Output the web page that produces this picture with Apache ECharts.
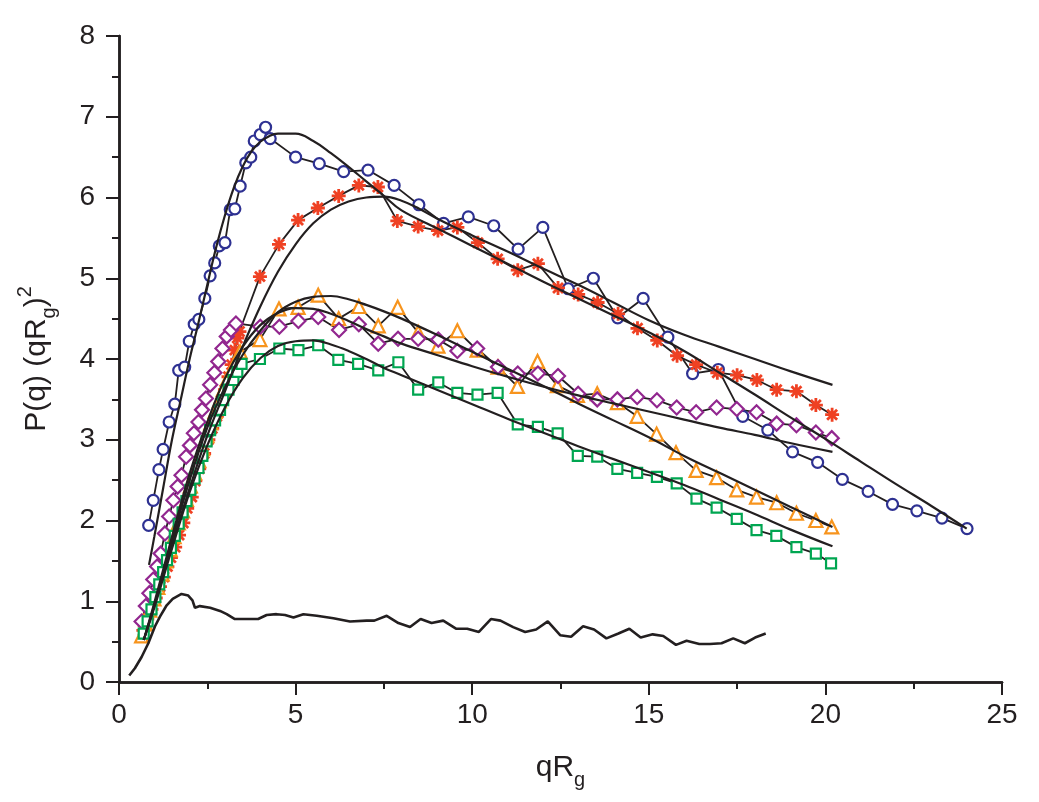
<!DOCTYPE html>
<html>
<head>
<meta charset="utf-8">
<title>P(q) (qRg)^2 vs qRg</title>
<script src="https://cdn.jsdelivr.net/npm/echarts@6/dist/echarts.min.js"></script>
<style>
  html, body { margin: 0; padding: 0; background: #fff; }
  #chart { width: 1039px; height: 802px; }
</style>
</head>
<body>
<div id="chart"></div>
<script>
// axis ticks
const xTicks = [0, 5, 10, 15, 20, 25];
const yTicks = [0, 1, 2, 3, 4, 5, 6, 7, 8];

// blue circles
const blueX = [0.84, 0.97, 1.13, 1.25, 1.42, 1.58, 1.69, 1.86, 1.99, 2.13, 2.26, 2.43, 2.58, 2.71, 2.84, 3.00,
  3.15, 3.28, 3.43, 3.59, 3.73, 3.83, 4.00, 4.15, 4.28, 5.00, 5.67, 6.36, 7.05, 7.79, 8.49, 9.19, 9.89,
  10.61, 11.30, 12.00, 12.72, 13.43, 14.12, 14.84, 15.54, 16.24, 16.97, 17.66, 18.37, 19.07, 19.78,
  20.48, 21.21, 21.90, 22.59, 23.30, 24.01];
const blueY = [1.94, 2.25, 2.63, 2.88, 3.22, 3.44, 3.86, 3.90, 4.22, 4.43, 4.49, 4.75, 5.03, 5.19, 5.40, 5.44,
  5.85, 5.86, 6.14, 6.43, 6.50, 6.70, 6.78, 6.87, 6.73, 6.50, 6.42, 6.32, 6.34, 6.15, 5.91, 5.68, 5.76,
  5.65, 5.36, 5.63, 4.87, 5.00, 4.51, 4.75, 4.27, 3.82, 3.87, 3.29, 3.12, 2.85, 2.72,
  2.51, 2.36, 2.20, 2.12, 2.03, 1.90];

// red asterisks
const redX = [0.69, 0.80, 0.92, 1.04, 1.16, 1.27, 1.37, 1.47, 1.59, 1.70, 1.82, 1.93, 2.06, 2.16, 2.27, 2.41,
  2.53, 2.64, 2.77, 2.88, 3.00, 3.10, 3.19, 3.28, 3.35, 3.41, 3.99, 4.53, 5.07, 5.63, 6.22, 6.79, 7.33,
  7.88, 8.47, 9.03, 9.58, 10.16, 10.72, 11.29, 11.86, 12.43, 13.00, 13.55, 14.13, 14.68, 15.24, 15.80,
  16.34, 16.94, 17.50, 18.06, 18.62, 19.18, 19.73, 20.19];
const redY = [0.64, 0.78, 0.90, 1.04, 1.18, 1.30, 1.43, 1.54, 1.67, 1.82, 1.97, 2.15, 2.29, 2.49, 2.64, 2.83,
  3.00, 3.14, 3.29, 3.45, 3.62, 3.78, 3.93, 4.11, 4.26, 4.34, 5.02, 5.42, 5.72, 5.87, 6.02, 6.15, 6.13,
  5.71, 5.64, 5.59, 5.63, 5.44, 5.24, 5.10, 5.18, 4.88, 4.80, 4.70, 4.56, 4.38, 4.23, 4.04,
  3.93, 3.83, 3.80, 3.74, 3.62, 3.60, 3.43, 3.31];

// orange triangles
const orangeX = [0.64, 0.75, 0.87, 0.99, 1.10, 1.22, 1.33, 1.45, 1.56, 1.68, 1.80, 1.91, 2.02, 2.14, 2.26, 2.37,
  2.49, 2.60, 2.72, 2.84, 2.95, 3.07, 3.19, 3.31, 3.43, 3.99, 4.53, 5.07, 5.64, 6.22, 6.79, 7.34, 7.89,
  8.47, 9.03, 9.58, 10.14, 10.73, 11.28, 11.85, 12.41, 12.98, 13.54, 14.11, 14.67, 15.22, 15.77, 16.34,
  16.92, 17.49, 18.05, 18.62, 19.18, 19.73, 20.18];
const orangeY = [0.57, 0.72, 0.89, 1.03, 1.17, 1.34, 1.50, 1.64, 1.80, 1.97, 2.12, 2.26, 2.43, 2.59, 2.74, 2.89,
  3.05, 3.21, 3.35, 3.48, 3.62, 3.75, 3.86, 3.97, 4.09, 4.24, 4.62, 4.64, 4.79, 4.50, 4.65, 4.41, 4.64,
  4.33, 4.16, 4.35, 4.11, 3.90, 3.66, 3.97, 3.67, 3.55, 3.57, 3.46, 3.29, 3.07, 2.84, 2.62,
  2.53, 2.38, 2.29, 2.22, 2.09, 2.00, 1.92];

// purple diamonds
const purpleX = [0.64, 0.76, 0.86, 0.97, 1.08, 1.18, 1.30, 1.42, 1.54, 1.66, 1.77, 1.90, 2.01, 2.12, 2.25, 2.35,
  2.46, 2.58, 2.70, 2.81, 2.93, 3.05, 3.17, 3.31, 4.00, 4.54, 5.08, 5.64, 6.23, 6.79, 7.34, 7.90, 8.47,
  9.04, 9.58, 10.14, 10.73, 11.29, 11.86, 12.43, 13.00, 13.54, 14.11, 14.67, 15.23, 15.79, 16.34, 16.92,
  17.49, 18.05, 18.62, 19.18, 19.73, 20.18];
const purpleY = [0.75, 0.94, 1.10, 1.27, 1.43, 1.59, 1.84, 2.05, 2.25, 2.42, 2.56, 2.79, 2.93, 3.08, 3.22, 3.37,
  3.51, 3.68, 3.83, 3.97, 4.13, 4.28, 4.36, 4.44, 4.40, 4.40, 4.47, 4.52, 4.36, 4.43, 4.19, 4.25, 4.25,
  4.24, 4.10, 4.13, 3.90, 3.82, 3.82, 3.79, 3.57, 3.50, 3.50, 3.53, 3.49, 3.40, 3.34, 3.40,
  3.38, 3.34, 3.20, 3.18, 3.09, 3.02];

// green squares
const greenX = [0.70, 0.81, 0.92, 1.03, 1.14, 1.25, 1.36, 1.47, 1.58, 1.69, 1.80, 1.91, 2.02, 2.14, 2.25, 2.36,
  2.48, 2.58, 2.72, 2.86, 2.95, 3.10, 3.24, 3.35, 3.47, 3.99, 4.54, 5.08, 5.64, 6.21, 6.77, 7.34, 7.91,
  8.47, 9.04, 9.58, 10.15, 10.72, 11.29, 11.86, 12.42, 12.99, 13.54, 14.11, 14.67, 15.23, 15.79, 16.35,
  16.92, 17.49, 18.05, 18.61, 19.18, 19.73, 20.16];
const greenY = [0.60, 0.75, 0.90, 1.05, 1.21, 1.36, 1.51, 1.66, 1.81, 1.96, 2.10, 2.24, 2.38, 2.52, 2.65, 2.80,
  2.98, 3.12, 3.24, 3.37, 3.49, 3.62, 3.74, 3.84, 3.94, 4.00, 4.13, 4.11, 4.17, 3.99, 3.94, 3.86, 3.96,
  3.62, 3.71, 3.58, 3.56, 3.58, 3.19, 3.16, 3.08, 2.80, 2.79, 2.64, 2.59, 2.54, 2.46, 2.27,
  2.16, 2.02, 1.88, 1.81, 1.67, 1.59, 1.47];

// black line at the bottom
const baseX = [0.29, 0.45, 0.64, 0.83, 1.02, 1.16, 1.35, 1.52, 1.77, 1.96, 2.08, 2.15, 2.29, 2.58, 2.86, 3.05,
  3.28, 3.62, 3.94, 4.18, 4.46, 4.70, 4.94, 5.22, 5.60, 6.07, 6.54, 7.01, 7.23, 7.58, 7.91, 8.24, 8.54,
  8.85, 9.18, 9.54, 9.86, 10.19, 10.53, 10.80, 11.16, 11.50, 11.81, 12.14, 12.49, 12.80, 13.14, 13.45,
  13.80, 14.14, 14.45, 14.77, 15.11, 15.41, 15.77, 16.07, 16.43, 16.73, 17.06, 17.39, 17.72, 18.01, 18.31];
const baseY = [0.08, 0.17, 0.31, 0.48, 0.69, 0.81, 0.95, 1.03, 1.09, 1.07, 1.01, 0.92, 0.94, 0.92, 0.88, 0.84,
  0.78, 0.78, 0.78, 0.83, 0.84, 0.83, 0.80, 0.84, 0.82, 0.79, 0.75, 0.76, 0.76, 0.82, 0.73, 0.68, 0.78,
  0.73, 0.76, 0.66, 0.66, 0.62, 0.78, 0.76, 0.68, 0.62, 0.65, 0.75, 0.58, 0.56, 0.69, 0.65,
  0.54, 0.60, 0.66, 0.55, 0.59, 0.57, 0.46, 0.51, 0.47, 0.47, 0.48, 0.54, 0.48, 0.55, 0.60];

// fitted curves
const fitBlueX = [0.85, 1.0, 1.25, 1.5, 1.75, 2.0, 2.25, 2.5, 2.75, 3.0, 3.25, 3.5, 3.75, 4.0, 4.25, 4.5, 5.0,
  5.5, 6.0, 6.5, 7.0, 7.5, 8.0, 9, 10, 11, 12, 13, 14, 15, 16, 17, 18, 19, 20, 21, 22, 23, 24];
const fitBlueY = [1.45, 1.80, 2.40, 3.00, 3.50, 4.00, 4.45, 4.92, 5.38, 5.78, 6.12, 6.38, 6.57, 6.69, 6.76, 6.79, 6.79,
  6.70, 6.55, 6.38, 6.20, 6.02, 5.84, 5.62, 5.40, 5.18, 4.96, 4.75, 4.54, 4.33, 4.10, 3.83, 3.56, 3.28, 3.01, 2.73, 2.45, 2.18, 1.90];

const fitRedX = [0.7, 1.0, 1.5, 2.0, 2.5, 3.0, 3.5, 4.0, 4.5, 5.0, 5.5, 6.0, 6.5, 7.0, 7.5, 8.0, 8.5, 9, 10, 11,
  12, 13, 14, 15, 16, 17, 18, 19, 20.2];
const fitRedY = [0.52, 0.95, 1.70, 2.40, 3.05, 3.60, 4.15, 4.65, 5.08, 5.42, 5.68, 5.85, 5.95, 6.00, 6.01, 5.96, 5.86, 5.74, 5.53, 5.33,
  5.12, 4.92, 4.70, 4.48, 4.30, 4.15, 4.00, 3.85, 3.68];

const fitOrangeX = [0.7, 1.0, 1.5, 2.0, 2.5, 3.0, 3.5, 4.0, 4.5, 5.0, 5.5, 6.0, 6.5, 7.0, 7.5, 8, 9, 10, 11, 12,
  13, 14, 15, 16, 17, 18, 19, 20.2];
const fitOrangeY = [0.52, 0.95, 1.75, 2.50, 3.15, 3.65, 4.05, 4.35, 4.58, 4.71, 4.77, 4.78, 4.74, 4.67, 4.59, 4.50, 4.30, 4.09, 3.88, 3.67,
  3.45, 3.24, 3.03, 2.80, 2.59, 2.38, 2.17, 1.92];

const fitPurpleX = [0.7, 1.0, 1.5, 2.0, 2.5, 3.0, 3.5, 4.0, 4.5, 5.0, 5.5, 6.0, 6.5, 7.0, 7.5, 8, 9, 10, 11, 12,
  13, 14, 15, 16, 17, 18, 19, 20.2];
const fitPurpleY = [0.52, 0.98, 1.80, 2.58, 3.22, 3.76, 4.15, 4.42, 4.57, 4.63, 4.62, 4.56, 4.47, 4.37, 4.28, 4.19, 4.05, 3.91, 3.78, 3.66,
  3.55, 3.45, 3.35, 3.25, 3.15, 3.06, 2.96, 2.85];

const fitGreenX = [0.7, 1.0, 1.5, 2.0, 2.5, 3.0, 3.5, 4.0, 4.5, 5.0, 5.5, 6.0, 6.5, 7.0, 7.5, 8, 9, 10, 11, 12,
  13, 14, 15, 16, 17, 18, 19, 20.2];
const fitGreenY = [0.52, 0.92, 1.65, 2.35, 2.93, 3.40, 3.76, 4.01, 4.16, 4.22, 4.23, 4.18, 4.10, 4.00, 3.89, 3.80, 3.62, 3.44, 3.26, 3.09,
  2.92, 2.76, 2.60, 2.44, 2.26, 2.08, 1.89, 1.68];

const ink = "#231f20";
const asterisk = "path://M0,-10L0,10M-10,0L10,0M-7.1,-7.1L7.1,7.1M-7.1,7.1L7.1,-7.1";

// pair up x and y arrays
function pts(xs, ys) {
  return xs.map((x, i) => [x, ys[i]]);
}

// data series: coloured hollow markers joined by thin black lines
function markerSeries(name, xs, ys, symbol, size, color, border) {
  return {
    name: name,
    type: "line",
    data: pts(xs, ys),
    symbol: symbol,
    symbolSize: size,
    showAllSymbol: true,
    lineStyle: { color: ink, width: 1.8 },
    itemStyle: { color: symbol === asterisk ? color : "#fff", borderColor: color, borderWidth: border },
    emphasis: { disabled: true },
    z: 2
  };
}

// fitted curves: plain smooth black lines
function fitSeries(name, xs, ys) {
  return {
    name: name,
    type: "line",
    data: pts(xs, ys),
    smooth: 0.4,
    showSymbol: false,
    symbol: "none",
    lineStyle: { color: ink, width: 2.2 },
    emphasis: { disabled: true },
    z: 3
  };
}

const labelFont = { fontFamily: "Liberation Sans", fontSize: 28, color: ink };
const titleRich = {
  n: { fontFamily: "Liberation Sans", fontSize: 30, color: ink },
  sub: { fontFamily: "Liberation Sans", fontSize: 20, color: ink, padding: [24, 0, 0, 0] },
  sup: { fontFamily: "Liberation Sans", fontSize: 20, color: ink, padding: [0, 0, 24, 0] }
};

const chart = echarts.init(document.getElementById("chart"), null, { renderer: "canvas" });
chart.setOption({
  animation: false,
  backgroundColor: "#fff",
  grid: { left: 119, right: 37, top: 36, bottom: 120, containLabel: false },
  xAxis: [
    {
      type: "value",
      position: "bottom",
      min: xTicks[0],
      max: xTicks[xTicks.length - 1],
      interval: 5,
      name: "{n|qR}{sub|g}",
      nameLocation: "middle",
      nameGap: 64,
      nameTextStyle: { rich: titleRich },
      axisLine: { lineStyle: { color: ink, width: 2.5 } },
      axisTick: { inside: false, length: 13, lineStyle: { color: ink, width: 2 } },
      minorTick: { show: true, splitNumber: 2, length: 7, lineStyle: { color: ink, width: 2 } },
      axisLabel: Object.assign({ margin: 19 }, labelFont),
      splitLine: { show: false }
    },
    {
      type: "value",
      position: "top",
      min: xTicks[0],
      max: xTicks[xTicks.length - 1],
      interval: 5,
      axisLine: { lineStyle: { color: ink, width: 2.5 } },
      axisTick: { show: false },
      axisLabel: { show: false },
      splitLine: { show: false }
    }
  ],
  yAxis: [
    {
      type: "value",
      position: "left",
      min: yTicks[0],
      max: yTicks[yTicks.length - 1],
      interval: 1,
      name: "{n|P(q) (qR}{sub|g}{n|)}{sup|2}",
      nameLocation: "middle",
      nameGap: 60,
      nameTextStyle: { rich: titleRich },
      axisLine: { lineStyle: { color: ink, width: 2.5 } },
      axisTick: { inside: false, length: 13, lineStyle: { color: ink, width: 2 } },
      minorTick: { show: true, splitNumber: 2, length: 7, lineStyle: { color: ink, width: 2 } },
      axisLabel: Object.assign({ margin: 24 }, labelFont),
      splitLine: { show: false }
    },
    {
      type: "value",
      position: "right",
      min: yTicks[0],
      max: yTicks[yTicks.length - 1],
      interval: 1,
      axisLine: { lineStyle: { color: ink, width: 2.5 } },
      axisTick: { inside: true, length: 13, lineStyle: { color: ink, width: 2 } },
      minorTick: { show: true, splitNumber: 2, length: 7, lineStyle: { color: ink, width: 2 } },
      axisLabel: { show: false },
      splitLine: { show: false }
    }
  ],
  series: [
    {
      name: "base",
      type: "line",
      data: pts(baseX, baseY),
      showSymbol: false,
      symbol: "none",
      lineStyle: { color: ink, width: 2.6 },
      emphasis: { disabled: true }
    },
    markerSeries("blue", blueX, blueY, "circle", 11, "#2e3192", 2.2),
    markerSeries("red", redX, redY, asterisk, 14, "#ef4123", 2.8),
    markerSeries("orange", orangeX, orangeY, "triangle", 13, "#f7941d", 2.2),
    markerSeries("purple", purpleX, purpleY, "diamond", 14, "#92278f", 2.2),
    markerSeries("green", greenX, greenY, "rect", 10, "#00a651", 2.2),
    fitSeries("fit blue", fitBlueX, fitBlueY),
    fitSeries("fit red", fitRedX, fitRedY),
    fitSeries("fit orange", fitOrangeX, fitOrangeY),
    fitSeries("fit purple", fitPurpleX, fitPurpleY),
    fitSeries("fit green", fitGreenX, fitGreenY)
  ]
});
</script>
</body>
</html>
